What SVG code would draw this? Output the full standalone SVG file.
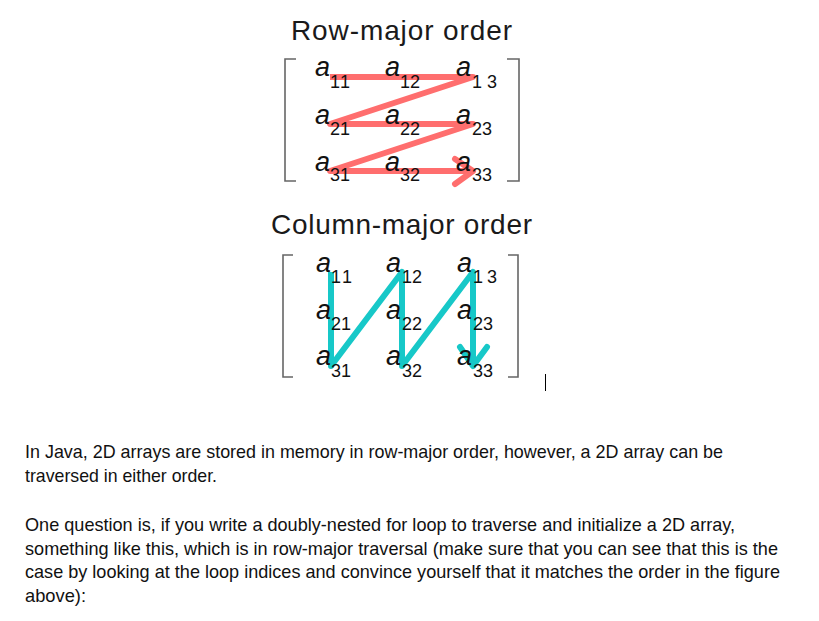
<svg xmlns="http://www.w3.org/2000/svg" width="819" height="621" viewBox="0 0 819 621">
<style>
.title{font-family:"Liberation Sans",Arial,sans-serif;font-size:28px;fill:#1a1a1a}
.a{font-family:"Liberation Sans",Arial,sans-serif;font-size:27px;font-style:italic;fill:#111}
.s{font-family:"Liberation Sans",Arial,sans-serif;font-size:18px;fill:#111}
.br{fill:none;stroke:#666;stroke-width:1.6}
.red{fill:none;stroke:#ff6e6e;stroke-width:6;stroke-linejoin:round}
.cy{fill:none;stroke:#17c8c8;stroke-width:6;stroke-linejoin:round}
.body{font-family:"Liberation Sans Narrow","Liberation Sans",Arial,sans-serif;font-size:19px;fill:#111}
</style>
<rect width="819" height="621" fill="#fff"/>

<g id="connectors">
  <polyline class="red" points="330,77 473,77 330,124 473,124 330,171 473,171"/>
  <polyline class="red" points="455,159 473,171 455,184" stroke-linecap="round"/>
  <polyline class="cy" points="331,272 331,366 402,272 402,366 473,272 473,366"/>
  <polyline class="cy" points="460,347 473,366 487,347" stroke-linecap="round"/>
</g>

<g id="row-major">
  <text class="title" x="291" y="40" textLength="221" lengthAdjust="spacing">Row-major order</text>
  <path class="br" d="M296,59 H285 V181 H296"/>
  <path class="br" d="M507,59 H519 V181 H507"/>
  <g id="r11"><text class="a" x="315" y="76">a</text><text class="s" x="330" y="88" textLength="20" lengthAdjust="spacing">11</text></g>
  <g id="r12"><text class="a" x="385" y="76">a</text><text class="s" x="400" y="88">12</text></g>
  <g id="r13"><text class="a" x="456" y="76">a</text><text class="s" x="472" y="88" textLength="25" lengthAdjust="spacing">13</text></g>
  <g id="r21"><text class="a" x="315" y="124">a</text><text class="s" x="330" y="135">21</text></g>
  <g id="r22"><text class="a" x="385" y="124">a</text><text class="s" x="400" y="135">22</text></g>
  <g id="r23"><text class="a" x="456" y="124">a</text><text class="s" x="472" y="135">23</text></g>
  <g id="r31"><text class="a" x="315" y="171">a</text><text class="s" x="330" y="181">31</text></g>
  <g id="r32"><text class="a" x="385" y="171">a</text><text class="s" x="400" y="181">32</text></g>
  <g id="r33"><text class="a" x="456" y="171">a</text><text class="s" x="472" y="181">33</text></g>
</g>

<g id="column-major">
  <text class="title" x="271" y="234" textLength="261" lengthAdjust="spacing">Column-major order</text>
  <path class="br" d="M293,255 H283 V377 H293"/>
  <path class="br" d="M508,255 H518 V377 H508"/>
  <g id="c11"><text class="a" x="316" y="272">a</text><text class="s" x="331" y="283" textLength="21" lengthAdjust="spacing">11</text></g>
  <g id="c12"><text class="a" x="386" y="272">a</text><text class="s" x="402" y="283">12</text></g>
  <g id="c13"><text class="a" x="457" y="272">a</text><text class="s" x="473" y="283" textLength="24" lengthAdjust="spacing">13</text></g>
  <g id="c21"><text class="a" x="316" y="319">a</text><text class="s" x="331" y="330">21</text></g>
  <g id="c22"><text class="a" x="386" y="319">a</text><text class="s" x="402" y="330">22</text></g>
  <g id="c23"><text class="a" x="457" y="319">a</text><text class="s" x="473" y="330">23</text></g>
  <g id="c31"><text class="a" x="316" y="365">a</text><text class="s" x="331" y="377">31</text></g>
  <g id="c32"><text class="a" x="386" y="365">a</text><text class="s" x="402" y="377">32</text></g>
  <g id="c33"><text class="a" x="457" y="365">a</text><text class="s" x="473" y="377">33</text></g>
</g>

<line x1="545.5" y1="374" x2="545.5" y2="391" stroke="#000" stroke-width="1"/>

<g id="paragraph">
  <text class="body" x="25" y="458" textLength="698" lengthAdjust="spacingAndGlyphs">In Java, 2D arrays are stored in memory in row-major order, however, a 2D array can be</text>
  <text class="body" x="25" y="482" textLength="192" lengthAdjust="spacingAndGlyphs">traversed in either order.</text>
  <text class="body" x="25" y="531" textLength="710" lengthAdjust="spacingAndGlyphs">One question is, if you write a doubly-nested for loop to traverse and initialize a 2D array,</text>
  <text class="body" x="25" y="554.5" textLength="753" lengthAdjust="spacingAndGlyphs">something like this, which is in row-major traversal (make sure that you can see that this is the</text>
  <text class="body" x="25" y="578" textLength="755" lengthAdjust="spacingAndGlyphs">case by looking at the loop indices and convince yourself that it matches the order in the figure</text>
  <text class="body" x="25" y="601.5" textLength="61" lengthAdjust="spacingAndGlyphs">above):</text>
</g>
</svg>
